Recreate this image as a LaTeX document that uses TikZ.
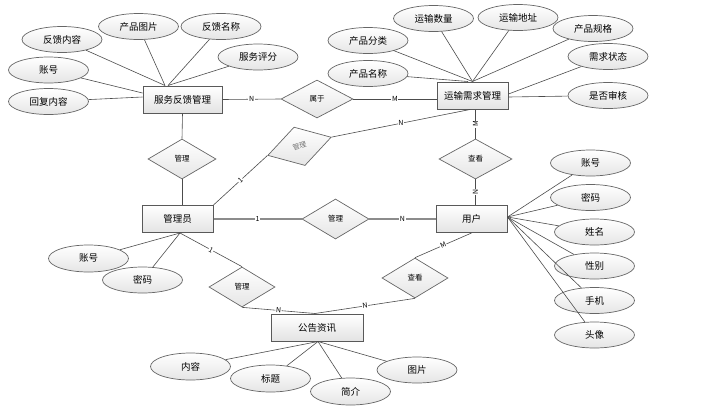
\documentclass[tikz,border=0pt]{standalone}
\usepackage{fontspec}
\setmainfont{Noto Sans CJK SC}
\usetikzlibrary{shapes.geometric}
\begin{document}
\begin{tikzpicture}[x=1pt,y=-1pt,
  ent/.style={rectangle, draw=black!65, line width=1pt, top color=white, bottom color=gray!22, minimum width=71pt, minimum height=27pt, inner sep=0pt, font=\fontsize{9.5}{11}\selectfont},
  attr/.style={ellipse, draw=black!60, line width=0.7pt, top color=white, bottom color=gray!20, minimum width=80pt, minimum height=26pt, inner sep=0pt, font=\fontsize{9.5}{11}\selectfont},
  rel/.style={diamond, draw=black!60, line width=0.7pt, top color=white, bottom color=gray!20, minimum width=68pt, minimum height=40pt, inner sep=0pt, font=\fontsize{7.5}{9}\selectfont},
  conn/.style={draw=black!70, line width=0.6pt},
  boldconn/.style={draw=black!45, line width=1.3pt},
  lab/.style={fill=white, inner sep=0.6pt, font=\fontsize{7}{8}\selectfont}
]
\useasboundingbox (0,0) rectangle (706,418);
% entities
\node[ent, minimum width=79pt] (fk) at (182.5,99.5) {服务反馈管理};
\node[ent] (ys) at (472.5,95.5) {运输需求管理};
\node[ent] (gly) at (177.5,219) {管理员};
\node[ent] (yh) at (471.5,219) {用户};
\node[ent, minimum width=92pt] (gg) at (317,327.5) {公告资讯};
% relations
\node[rel, minimum width=72pt, minimum height=38pt] (sy) at (317,99) {属于};
\node[rel] (gl1) at (182,159) {管理};
\node[rel, minimum width=67pt] (gl3) at (335.5,219) {管理};
\node[rel, minimum width=73pt] (ck1) at (475.5,159) {查看};
\node[rel, minimum width=66pt] (gl4) at (242,287) {管理};
\node[rel, minimum width=66pt] (ck2) at (415,278) {查看};
\node[rel, minimum width=66pt, rotate=16, text=black!55, font=\fontsize{7}{8}\selectfont] (gl2) at (299.5,146.3) {管理};
% attributes of 服务反馈管理
\node[attr] (a1) at (62,39.5) {反馈内容};
\node[attr] (a2) at (138.5,26.5) {产品图片};
\node[attr] (a3) at (221,26.5) {反馈名称};
\node[attr] (a4) at (258,57) {服务评分};
\node[attr] (a5) at (48.5,70) {账号};
\node[attr] (a6) at (48.5,101.5) {回复内容};
% attributes of 运输需求管理
\node[attr] (b1) at (433.5,18.5) {运输数量};
\node[attr] (b2) at (518,17.5) {运输地址};
\node[attr] (b3) at (593,28.5) {产品规格};
\node[attr] (b4) at (368,40.5) {产品分类};
\node[attr] (b5) at (368,73.5) {产品名称};
\node[attr] (b6) at (608,56.5) {需求状态};
\node[attr] (b7) at (608,95.5) {是否审核};
% attributes of 用户
\node[attr] (c1) at (590.5,163) {账号};
\node[attr] (c2) at (590.5,197.5) {密码};
\node[attr] (c3) at (594.5,232) {姓名};
\node[attr] (c4) at (594.5,266) {性别};
\node[attr] (c5) at (594.5,300.5) {手机};
\node[attr] (c6) at (594.5,335) {头像};
% attributes of 管理员
\node[attr, minimum height=27pt] (d1) at (88.5,258.5) {账号};
\node[attr] (d2) at (142.5,280) {密码};
% attributes of 公告资讯
\node[attr, minimum height=27pt] (e1) at (190.5,366.5) {内容};
\node[attr, minimum height=27pt] (e2) at (270.5,378.5) {标题};
\node[attr, minimum height=27pt] (e3) at (350.5,391.5) {简介};
\node[attr] (e4) at (417,370) {图片};
% attribute connectors
\draw[conn] (a1) -- ([xshift=-17.5pt]fk.north);
\draw[conn] (a2) -- ([xshift=-17.5pt]fk.north);
\draw[conn] (a3) -- ([xshift=-14.5pt]fk.north);
\draw[conn] (a4) -- ([xshift=-14.5pt]fk.north);
\draw[conn] (a5) -- ([yshift=6.5pt]fk.west);
\draw[conn] (a6) -- ([yshift=2.5pt]fk.west);
\draw[conn] (b1) -- (ys.north);
\draw[conn] (b2) -- (ys.north);
\draw[conn] (b3) -- (ys.north);
\draw[conn] (b4) -- (ys.north);
\draw[conn] (b5) -- ([xshift=-4.5pt]ys.north);
\draw[conn] (b6) -- ([yshift=1.5pt]ys.east);
\draw[conn] (b7) -- ([yshift=-1.5pt]ys.east);
\foreach \c in {c1,c2,c3,c4,c5,c6} \draw[conn] (\c) -- ([yshift=2pt]yh.east);
\draw[conn] (d1) -- ([xshift=2.5pt]gly.south);
\draw[conn] (d2) -- ([xshift=2.5pt]gly.south);
\foreach \e in {e1,e2,e3,e4} \draw[conn] (\e) -- ([xshift=1pt]gg.south);
% relation connectors
\draw[conn] (fk.east) -- node[lab]{N} (sy.west);
\draw[conn] (sy.east) -- node[lab]{M} (sy.east -| ys.west);
\draw[conn] (fk.south) -- (gl1.north);
\draw[conn] (gl1.south) -- (gl1.south |- gly.north);
\draw[conn] ([xshift=-2.5pt]ys.south) -- node[lab]{N} (gl2.east);
\draw[conn] (gly.north east) -- node[lab, sloped]{1} (gl2.west);
\draw[conn] (ck1.north) -- node[lab, sloped]{M} (ck1.north |- ys.south);
\draw[conn] (ck1.south) -- node[lab, sloped]{N} (ck1.south |- yh.north);
\draw[boldconn] (gly.east) -- node[lab]{1} (gl3.west);
\draw[boldconn] (gl3.east) -- node[lab]{N} (yh.west);
\draw[conn] ([xshift=2.5pt]gly.south) -- node[lab, sloped]{1} (gl4.north);
\draw[conn] (gl4.south) -- node[lab, sloped]{N} ([xshift=-2pt]gg.north);
\draw[conn] (ck2.south) -- node[lab, sloped]{N} ([xshift=-2pt]gg.north);
\draw[conn] (yh.south) -- node[lab, sloped]{M} (ck2.north);
\end{tikzpicture}
\end{document}
